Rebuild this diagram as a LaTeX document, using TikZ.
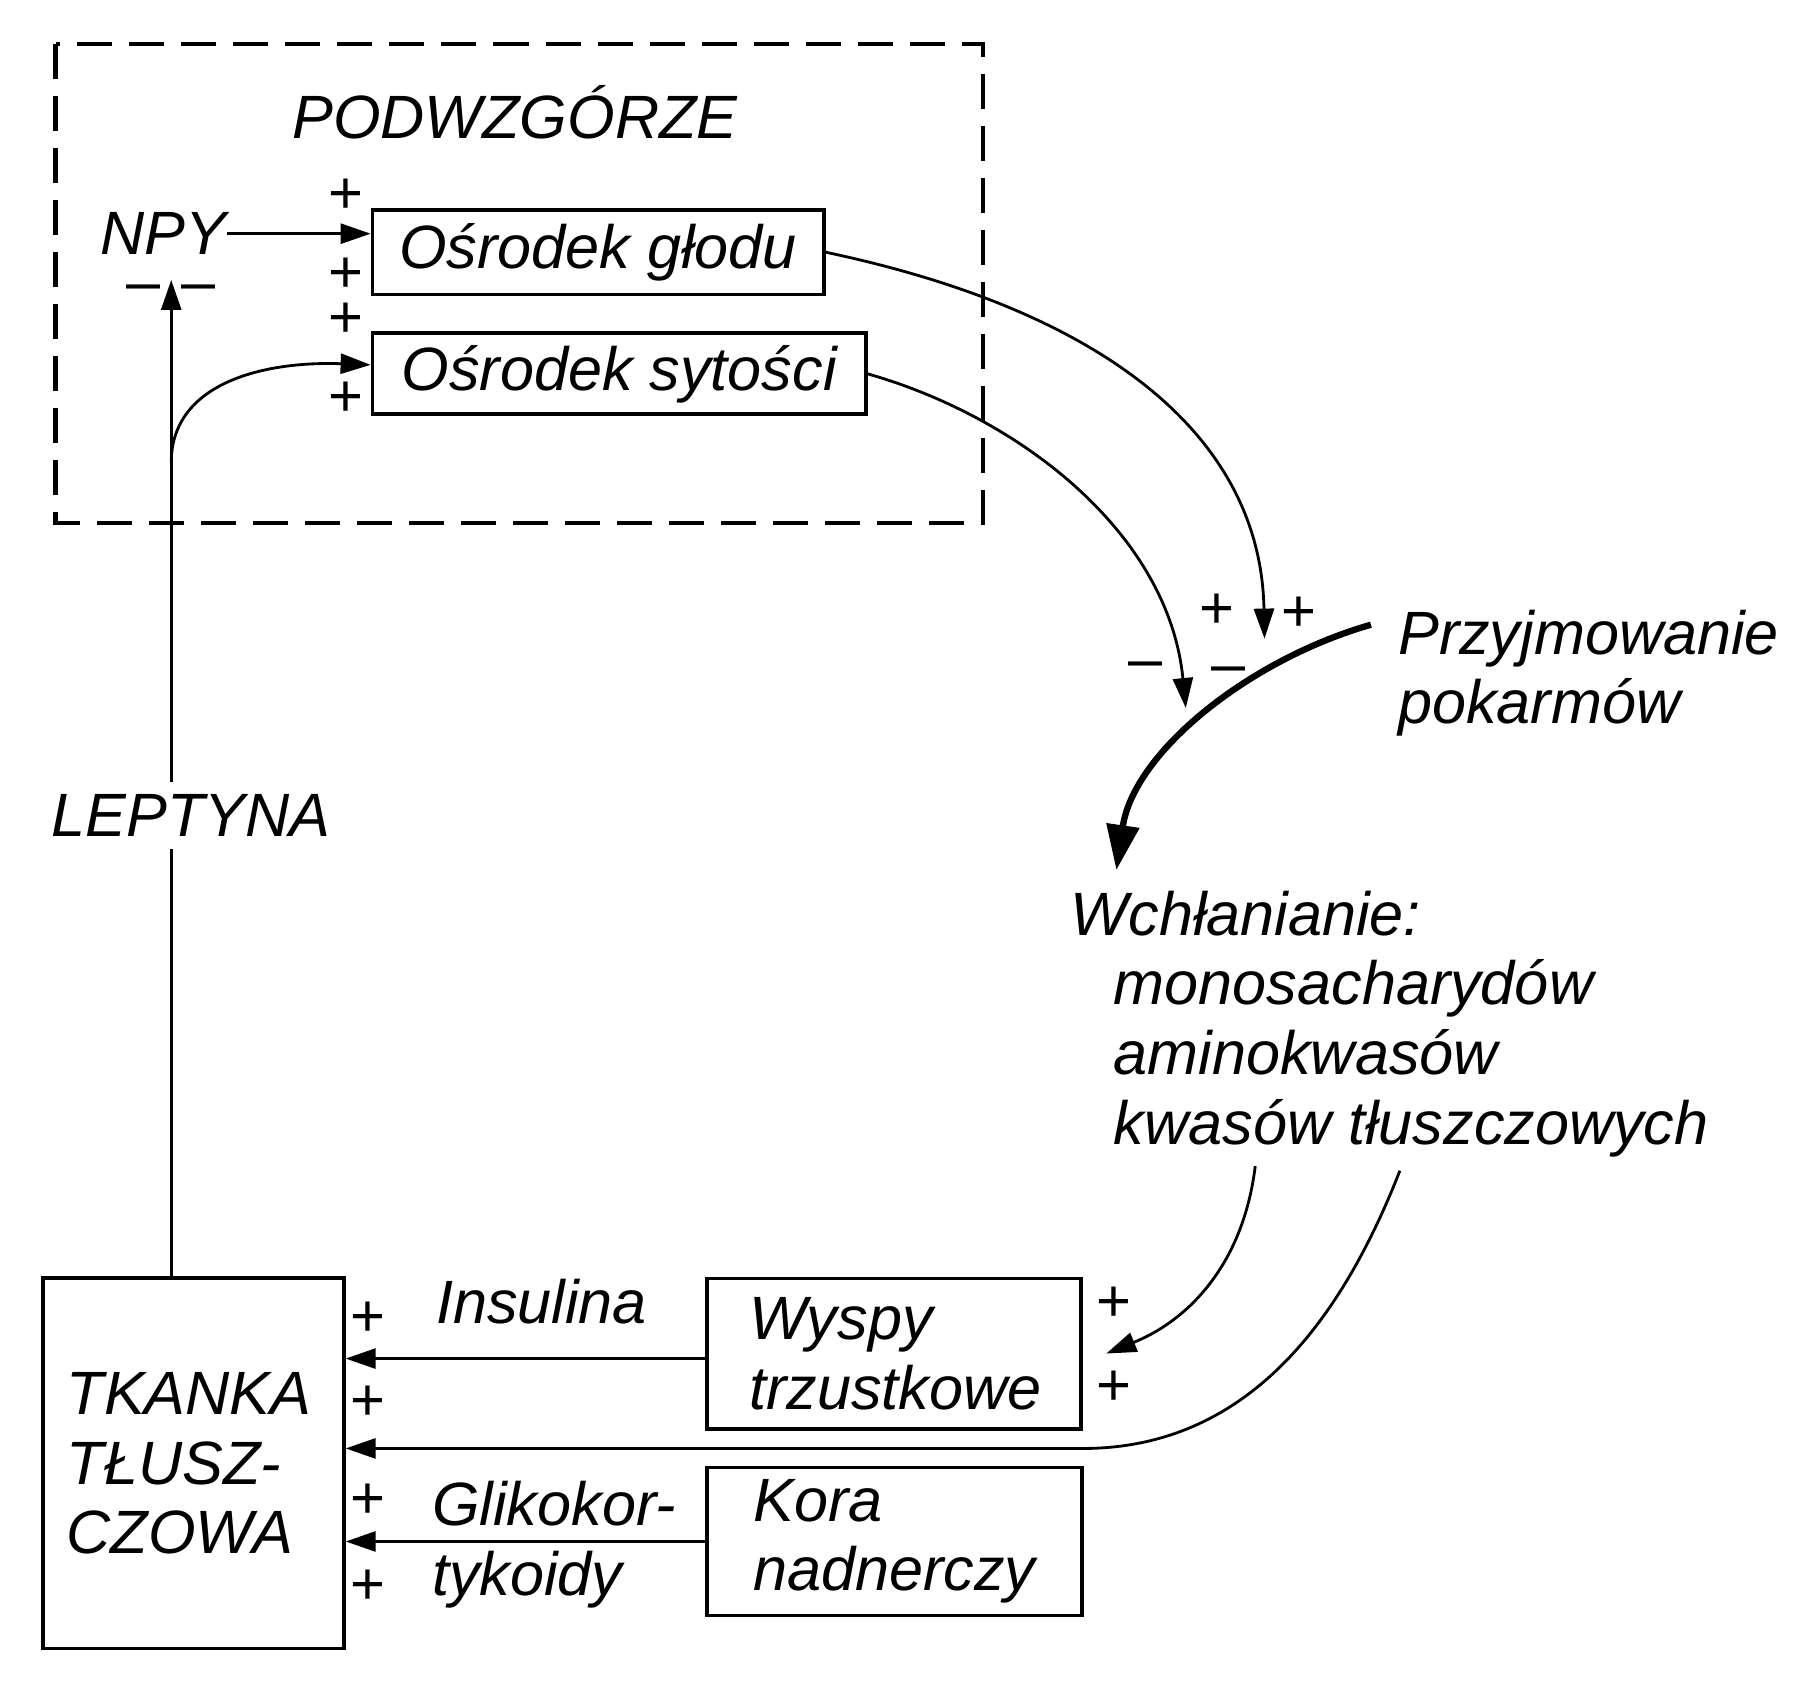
\documentclass[tikz,border=0pt]{standalone}
\usepackage{fontspec}
\setmainfont{Liberation Sans}
\usetikzlibrary{positioning,arrows.meta}

\begin{document}
\begin{tikzpicture}[x=0.01157cm, y=-0.01157cm, >={Triangle[length=0.3cm,width=0.2cm]},
  font=\fontsize{17.4}{19.8}\selectfont\itshape,
  every node/.style={inner sep=0pt, align=left},
  box/.style={draw, line width=1.1pt},
  sgn/.style={font=\fontsize{17}{17}\selectfont\upshape},
  mns/.style={font=\fontsize{17.4}{17.4}\selectfont\upshape},
  conn/.style={->, line width=0.8pt}]
\useasboundingbox (0,0) rectangle (1568,1460);
\draw[line width=1.2pt, dash pattern=on 0.35cm off 0.17cm] (48,38) rectangle (850,452);
\node (pod) at (445,97) {PODWZGÓRZE};
\node (npy) at (141,202) {NPY};
\node[box, minimum width=4.51cm, minimum height=0.845cm] (glod) at (517,218) {Ośrodek głodu};
\node[box, minimum width=4.93cm, minimum height=0.81cm, below=0.35cm of glod.south west, anchor=north west] (syt) {Ośrodek sytości};
\node[inner ysep=0.12cm] (lep) at (165,705) {LEPTYNA};
\node[anchor=west] (przy) at (1208,582) {Przyjmowanie\\pokarmów};
\node[anchor=west] (wch) at (925,885) {Wchłanianie:\\\hspace*{0.43cm}monosacharydów\\\hspace*{0.43cm}aminokwasów\\\hspace*{0.43cm}kwasów tłuszczowych};
\node[box, text width=2.53cm, inner xsep=0.24cm, minimum height=3.7cm] (tk) at (167,1265) {TKANKA\\TŁUSZ-\\CZOWA};
\node[box, text width=2.9cm, inner xsep=0.42cm, minimum height=1.5cm] (wys) at (773,1170) {Wyspy\\trzustkowe};
\node[box, text width=2.83cm, inner xsep=0.46cm, minimum height=1.48cm, below=0.35cm of wys.south west, anchor=north west] (kora) {Kora\\nadnerczy};
\node (ins) at (468,1125) {Insulina};
\node[anchor=west] (gli) at (373,1335) {Glikokor-\\tykoidy};
\node[sgn] (pg1) at (299,170) {+};
\node[sgn] (pg2) at (299,238) {+};
\node[sgn] (ps1) at (299,277) {+};
\node[sgn] (ps2) at (299,345) {+};
\node[mns] (mn1) at (124,254) {–};
\node[mns] (mn2) at (172,254) {–};
\node[sgn] (pp1) at (1052,528) {+};
\node[sgn] (pp2) at (1123,531) {+};
\node[mns] (mp1) at (990,580) {–};
\node[mns] (mp2) at (1062,584) {–};
\node[sgn] (pt1) at (318,1140) {+};
\node[sgn] (pt2) at (318,1213) {+};
\node[sgn] (pt3) at (318,1298) {+};
\node[sgn] (pt4) at (318,1372) {+};
\node[sgn] (pw1) at (963,1127) {+};
\node[sgn] (pw2) at (963,1200) {+};
\coordinate (lepup) at (148,242);
\coordinate (fork) at (148,400);
\coordinate (hin) at (1093,552);
\coordinate (sin) at (1025,612);
\coordinate (eat) at (1185,540);
\coordinate (wchin) at (965,752);
\coordinate (wout1) at (1085,1008);
\coordinate (wout2) at (1210,1012);
\coordinate (bend) at (940,1252);
\draw[conn] (npy.east) -- (npy.east -| glod.west);
\draw[line width=0.8pt] (tk.north -| lepup) -- (lep.south -| lepup);
\draw[conn] (lep.north -| lepup) -- (lepup);
\draw[conn] (fork) .. controls (148,330) and (230,312) .. ([yshift=0.09cm]syt.west);
\draw[conn] (glod.east) .. controls (960,270) and (1090,380) .. (hin);
\draw[conn] (syt.east) .. controls (880,360) and (1010,460) .. (sin);
\draw[line width=1.8pt, -{Triangle[length=0.45cm,width=0.32cm]}] (eat) .. controls (1080,570) and (980,650) .. (wchin);
\draw[conn] (wout1) .. controls (1075,1090) and (1030,1140) .. ([xshift=0.23cm]wys.east);
\draw[conn] (wout2) .. controls (1160,1140) and (1080,1250) .. (bend) -- (bend -| tk.east);
\draw[conn] ([yshift=-0.05cm]wys.west) -- ([yshift=-0.05cm]wys.west -| tk.east);
\draw[conn] (kora.west) -- (kora.west -| tk.east);
\end{tikzpicture}
\end{document}
